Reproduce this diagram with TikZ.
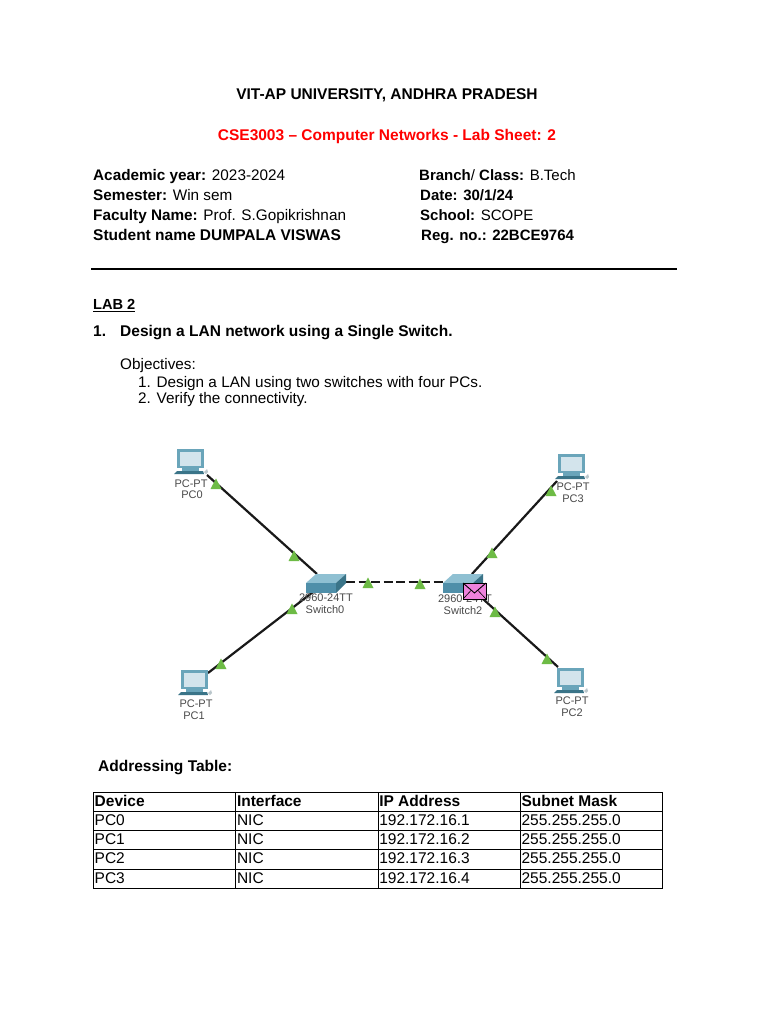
\documentclass[tikz,border=0pt]{standalone}
\usepackage{fontspec}
\setmainfont{Liberation Sans}
\definecolor{linkgreen}{HTML}{6DBB45}
\definecolor{swtop}{HTML}{8FC0D2}
\definecolor{swfront}{HTML}{4F8FA9}
\definecolor{swside}{HTML}{3A7488}
\definecolor{pcframe}{HTML}{6AA5BA}
\definecolor{pcscreen}{HTML}{D3E4EC}
\definecolor{mailpink}{HTML}{EE82DC}
\definecolor{labgray}{HTML}{4A4A4A}
\tikzset{
  txt/.style={anchor=base west,inner sep=0pt,font=\fontsize{15.5}{18}\selectfont},
  info/.style={txt,font=\fontsize{15.3}{18}\selectfont},
  inforight/.style={txt,font=\fontsize{15}{18}\selectfont},
  ctxt/.style={anchor=base,inner sep=0pt,font=\fontsize{15.5}{18}\selectfont},
  devlabel/.style={anchor=center,inner sep=0pt,text=labgray,font=\fontsize{11}{13}\selectfont},
  cable/.style={line width=2.2pt,black!90},
  ok/.style={fill=linkgreen,draw=none},
  cell/.style={draw=black,line width=0.8pt,minimum width=142.3pt,minimum height=19.2pt,anchor=north west,inner sep=0pt,outer sep=0pt},
}
\newcommand{\pcicon}[2]{% top-left of screen, at (#1,#2), about 27 x 24 px
  \begin{scope}[shift={(#1,#2)}]
    \fill[pcframe] (0,0) rectangle (27,19);
    \fill[pcscreen] (3,3) rectangle (24,17);
    \fill[pcframe] (5,19) rectangle (22,22);
    \fill[swside] (-3,25) -- (0,22) -- (26,22) -- (27,25) -- cycle;
    \fill[pcscreen!70!gray] (27,23) -- (30,20) -- (31,23) -- (29,25) -- cycle;
  \end{scope}}
\newcommand{\swicon}[2]{% top-left of bounding box
  \begin{scope}[shift={(#1,#2)}]
    \fill[swtop] (0,9) -- (10,0) -- (40,0) -- (30,9) -- cycle;
    \fill[swfront] (0,9) rectangle (30,19);
    \fill[swside] (30,9) -- (40,0) -- (40,9) -- (30,19) -- cycle;
  \end{scope}}
\newcommand{\okmark}[2]{\fill[ok] (#1-5.5,#2+5) -- (#1,#2-5.5) -- (#1+5.5,#2+5) -- cycle;}
\begin{document}
\begin{tikzpicture}[x=1pt,y=-1pt]
\useasboundingbox (0,0) rectangle (768,1024);
\fill[white] (0,0) rectangle (768,1024);
% header
\node[ctxt,font=\fontsize{15.5}{18}\selectfont\bfseries] (title) at (387,100) {VIT-AP UNIVERSITY, ANDHRA PRADESH};
\node[ctxt,text=red,font=\fontsize{15.5}{18}\selectfont\bfseries] (course) at (387,141) {CSE3003 – Computer Networks - Lab Sheet: 2};
\node[info] (year) at (93,180.5) {\textbf{Academic year:} 2023-2024};
\node[info] (sem) at (93,200.5) {\textbf{Semester:} Win sem};
\node[info] (fac) at (93,220.5) {\textbf{Faculty Name:} Prof. S.Gopikrishnan};
\node[txt] (stu) at (93,240.5) {\textbf{Student name DUMPALA VISWAS}};
\node[inforight] (branch) at (419,180.5) {\textbf{Branch}/ \textbf{Class:} B.Tech};
\node[inforight] (date) at (420,200.5) {\textbf{Date: 30/1/24}};
\node[inforight] (school) at (420,220.5) {\textbf{School:} SCOPE};
\node[inforight] (reg) at (421,240.5) {\textbf{Reg. no.: 22BCE9764}};
\draw[line width=2pt] (91,269) -- (677,269);
\node[txt,font=\fontsize{14.6}{18}\selectfont] (lab) at (93,309.5) {\textbf{\underline{LAB 2}}};
\node[txt] (q1) at (93,336) {\textbf{1.}};
\node[txt] (q1t) at (120,336) {\textbf{Design a LAN network using a Single Switch.}};
\node[info] (obj) at (120,369.5) {Objectives:};
\node[info] (o1) at (138,387) {1. Design a LAN using two switches with four PCs.};
\node[info] (o2) at (138,403) {2. Verify the connectivity.};
% connector end points
\coordinate (pc0) at (207,475);
\coordinate (pc1) at (208,673);
\coordinate (pc2) at (558,667);
\coordinate (pc3) at (557,481);
\coordinate (s0a) at (317,574);
\coordinate (s0b) at (313,592);
\coordinate (s0c) at (346,582);
\coordinate (s2a) at (443,582);
\coordinate (s2b) at (472,574);
\coordinate (s2c) at (483,599);
% cables
\draw[cable] (pc0) -- (s0a);
\draw[cable] (pc1) -- (s0b);
\draw[cable] (pc3) -- (s2b);
\draw[cable] (pc2) -- (s2c);
\draw[cable,dash pattern=on 9pt off 3.5pt] (s0c) -- (s2a);
% devices
\pcicon{177}{449}
\pcicon{181}{670}
\pcicon{558}{454}
\pcicon{557}{668}
\swicon{306}{574}
\swicon{443}{574}
% link marks
\okmark{216}{484}\okmark{294}{556}\okmark{292}{609}\okmark{221}{664}
\okmark{368}{583}\okmark{420}{584}\okmark{492}{553}\okmark{551}{491}
\okmark{495}{612}\okmark{547}{659}
% labels
\node[devlabel] (l0a) at (191,484) {PC-PT};
\node[devlabel] (l0b) at (192,495) {PC0};
\node[devlabel] (l1a) at (196,704) {PC-PT};
\node[devlabel] (l1b) at (194,716) {PC1};
\node[devlabel] (l3a) at (573,487) {PC-PT};
\node[devlabel] (l3b) at (573,499) {PC3};
\node[devlabel] (l2a) at (572,701) {PC-PT};
\node[devlabel] (l2b) at (572,713) {PC2};
\node[devlabel] (s0l) at (326,598) {2960-24TT};
\node[devlabel] (s0n) at (325,610) {Switch0};
\node[devlabel] (s2l) at (465,599) {2960-24TT};
\node[devlabel] (s2n) at (463,611) {Switch2};
% envelope
\draw[line width=0.9pt,fill=mailpink] (463,583) rectangle (486,599);
\draw[line width=0.9pt] (463,583) -- (474.5,593) -- (486,583);
\draw[line width=0.6pt] (463,599) -- (471,590.5) (486,599) -- (478,590.5);
% table
\node[txt] (addr) at (98,771) {\textbf{Addressing Table:}};
\foreach \r/\y/\a/\b/\c/\d in {
  h/792.2/\textbf{Device}/\textbf{Interface}/\textbf{IP Address}/\textbf{Subnet Mask},
  a/811.4/PC0/NIC/192.172.16.1/255.255.255.0,
  b/830.6/PC1/NIC/192.172.16.2/255.255.255.0,
  c/849.8/PC2/NIC/192.172.16.3/255.255.255.0,
  d/869/PC3/NIC/192.172.16.4/255.255.255.0}{
  \node[cell] (\r1) at (93.5,\y) {};
  \node[cell] (\r2) at (235.8,\y) {};
  \node[cell] (\r3) at (378.1,\y) {};
  \node[cell] (\r4) at (520.4,\y) {};
  \node[txt] (t\r1) at (94.5,\y+14) {\a};
  \node[txt] (t\r2) at (236.8,\y+14) {\b};
  \node[txt] (t\r3) at (379.1,\y+14) {\c};
  \node[txt] (t\r4) at (521.4,\y+14) {\d};
}
\end{tikzpicture}
\end{document}
